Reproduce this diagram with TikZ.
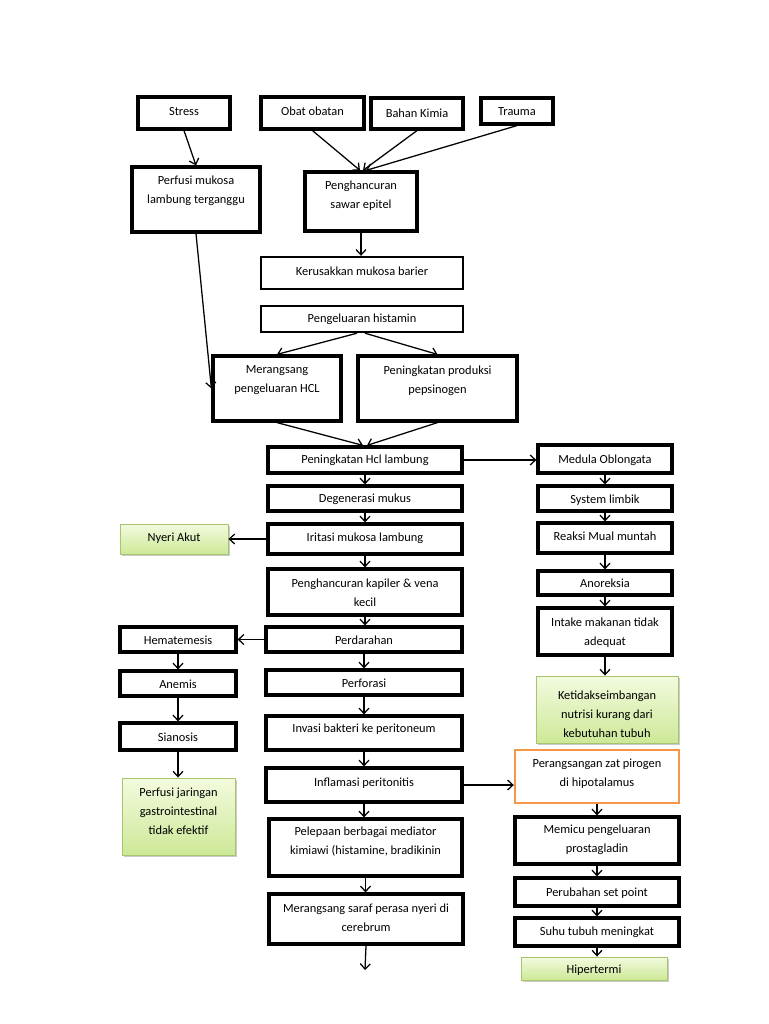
\documentclass[tikz,border=0pt]{standalone}
\usepackage{fontspec}
\setmainfont{Carlito}
\usetikzlibrary{arrows.meta,shadows,calc}
\definecolor{gtop}{HTML}{F3FBDF}
\definecolor{gbot}{HTML}{CDE897}
\definecolor{gline}{HTML}{A8C46C}
\definecolor{orng}{HTML}{F79646}
\newcommand{\mkbox}[8]{%
  \pgfmathsetmacro{\mbcx}{(#3+#5)/2}%
  \pgfmathsetmacro{\mbcy}{(#4+#6)/2}%
  \pgfmathsetmacro{\mbw}{(#5-#3)*0.75}%
  \pgfmathsetmacro{\mbh}{(#6-#4)*0.75}%
  \node[#2, minimum width=\mbw pt, minimum height=\mbh pt] (#1) at (\mbcx,\mbcy) {};%
  \node[txt] (#1-t) at (\mbcx,#7) {#8};%
}
\begin{document}
\begin{tikzpicture}[x=0.75pt,y=-0.75pt,
  txt/.style={inner sep=0pt, align=center, font=\fontsize{9.3}{14.25}\selectfont},
  bbox/.style={draw=black, fill=white, line width=2.4pt, inner sep=0pt, rectangle},
  tbox/.style={draw=black, fill=white, line width=1.8pt, inner sep=0pt, rectangle},
  gbox/.style={draw=gline, line width=0.7pt, top color=gtop, bottom color=gbot, inner sep=0pt, rectangle,
    drop shadow={shadow xshift=1.3pt, shadow yshift=-1.8pt, fill=black!45, opacity=0.45}},
  obox/.style={draw=orng, fill=white, line width=1.8pt, inner sep=0pt, rectangle},
  conn/.style={draw=black, line width=0.95pt, -{Straight Barb[length=4pt,width=7.5pt,line width=0.95pt]}}
]
\fill[white] (0,0) rectangle (768,1024);
\useasboundingbox (0,0) rectangle (768,1024);

% top row
\mkbox{stress}{bbox}{138}{97}{230}{129}{112}{Stress}
\mkbox{obat}{bbox}{261}{97}{364}{129}{111}{Obat obatan}
\mkbox{bahan}{bbox}{371}{98}{463}{129}{113}{Bahan Kimia}
\mkbox{trauma}{bbox}{481}{98}{553}{124}{112}{Trauma}
\mkbox{perfusi}{bbox}{132}{167}{260}{232}{190.5}{Perfusi mukosa\\lambung terganggu}
\mkbox{peng}{bbox}{305}{172}{417}{231}{195.5}{Penghancuran\\sawar epitel}
\mkbox{kerus}{tbox}{261}{257}{463}{289}{271}{Kerusakkan mukosa barier}
\mkbox{hist}{tbox}{261}{306}{463}{332}{319}{Pengeluaran histamin}
\mkbox{merang}{bbox}{213}{356}{341}{421}{380.5}{Merangsang\\pengeluaran HCL}
\mkbox{pepsin}{bbox}{358}{356}{517}{421}{380.5}{Peningkatan produksi\\pepsinogen}

% central column
\mkbox{hcl}{bbox}{268}{447}{462}{473}{460}{Peningkatan Hcl lambung}
\mkbox{degen}{bbox}{268}{486}{462}{511}{499}{Degenerasi mukus}
\mkbox{iritasi}{bbox}{268}{524}{462}{554}{538}{Iritasi mukosa lambung}
\mkbox{kapiler}{bbox}{268}{569}{462}{615}{592.5}{Penghancuran kapiler \& vena\\kecil}
\mkbox{darah}{bbox}{266}{627}{462}{652}{640}{Perdarahan}
\mkbox{perfor}{bbox}{266}{670}{462}{695}{683}{Perforasi}
\mkbox{invasi}{bbox}{266}{716}{462}{750}{729}{Invasi bakteri ke peritoneum}
\mkbox{inflam}{bbox}{266}{768}{462}{802}{783}{Inflamasi peritonitis}
\mkbox{pelepa}{bbox}{269}{819}{462}{876}{841.5}{Pelepaan berbagai mediator\\kimiawi (histamine, bradikinin}
\mkbox{saraf}{bbox}{269}{894}{463}{944}{917.5}{Merangsang saraf perasa nyeri di\\cerebrum}
\coordinate (endc) at (365,970);

% left column
\mkbox{nyeri}{gbox}{120}{524}{228}{554}{538}{Nyeri Akut}
\mkbox{hemat}{bbox}{120}{627}{236}{652}{640}{Hematemesis}
\mkbox{anemis}{bbox}{120}{671}{236}{696}{684}{Anemis}
\mkbox{sianosis}{bbox}{120}{723}{236}{750}{737}{Sianosis}
\mkbox{pjar}{gbox}{122}{778}{235}{855}{811}{Perfusi jaringan\\gastrointestinal\\tidak efektif}

% right column
\mkbox{medula}{bbox}{538}{445}{672}{473}{460}{Medula Oblongata}
\mkbox{limbik}{bbox}{538}{486}{672}{511}{500}{System limbik}
\mkbox{reaksi}{bbox}{538}{523}{672}{553}{536}{Reaksi Mual muntah}
\mkbox{anorek}{bbox}{538}{571}{672}{595}{583}{Anoreksia}
\mkbox{intake}{bbox}{538}{608}{672}{655}{632.5}{Intake makanan tidak\\adequat}
\mkbox{ketidak}{gbox}{536}{676}{678}{743}{714}{Ketidakseimbangan\\nutrisi kurang dari\\kebutuhan tubuh}
\mkbox{perang}{obox}{515}{750}{679}{803}{774}{Perangsangan zat pirogen\\di hipotalamus}
\mkbox{memicu}{bbox}{515}{817}{679}{864}{840}{Memicu pengeluaran\\prostagladin}
\mkbox{ubah}{bbox}{515}{878}{679}{906}{893}{Perubahan set point}
\mkbox{suhu}{bbox}{515}{918}{679}{946}{932}{Suhu tubuh meningkat}
\mkbox{hiper}{gbox}{521}{957}{667}{980}{970}{Hipertermi}

% connectors top
\draw[conn] (stress.south) -- (perfusi.north);
\draw[conn] (obat.south) -- ($(peng.north)+(-1,0)$);
\draw[conn] (bahan.south) -- ($(peng.north)+(2,0)$);
\draw[conn] (trauma.south) -- ($(peng.north)+(5,0)$);
\draw[conn] (peng.south) -- (peng.south |- kerus.north);
\draw[conn] (perfusi.south) -- (merang.west);
\draw[conn] ($(hist.south)+(-5,0)$) -- (merang.north);
\draw[conn] ($(hist.south)+(3,0)$) -- (pepsin.north);
\draw[conn] (merang.south) -- ($(hcl.north)+(-2,0)$);
\draw[conn] (pepsin.south) -- ($(hcl.north)+(2,0)$);

% central chain
\draw[conn] (hcl.south) -- (hcl.south |- degen.north);
\draw[conn] (degen.south) -- (degen.south |- iritasi.north);
\draw[conn] (iritasi.south) -- (iritasi.south |- kapiler.north);
\draw[conn] (kapiler.south) -- (kapiler.south |- darah.north);
\draw[conn] (darah.south) -- (darah.south |- perfor.north);
\draw[conn] (perfor.south) -- (perfor.south |- invasi.north);
\draw[conn] (invasi.south) -- (invasi.south |- inflam.north);
\draw[conn] (inflam.south) -- (inflam.south |- pelepa.north);
\draw[conn] (pelepa.south) -- (pelepa.south |- saraf.north);
\draw[conn] (saraf.south) -- (endc);

% side branches
\draw[conn] (hcl.east) -- (hcl.east -| medula.west);
\draw[conn] (iritasi.west) -- (iritasi.west -| nyeri.east);
\draw[conn] (darah.west) -- (darah.west -| hemat.east);
\draw[conn] (inflam.east) -- (inflam.east -| perang.west);

% left chain
\draw[conn] (hemat.south) -- (hemat.south |- anemis.north);
\draw[conn] (anemis.south) -- (anemis.south |- sianosis.north);
\draw[conn] (sianosis.south) -- (sianosis.south |- pjar.north);

% right chain
\draw[conn] (medula.south) -- (medula.south |- limbik.north);
\draw[conn] (limbik.south) -- (limbik.south |- reaksi.north);
\draw[conn] (reaksi.south) -- (reaksi.south |- anorek.north);
\draw[conn] (anorek.south) -- (anorek.south |- intake.north);
\draw[conn] (intake.south) -- (intake.south |- ketidak.north);
\draw[conn] (perang.south) -- (perang.south |- memicu.north);
\draw[conn] (memicu.south) -- (memicu.south |- ubah.north);
\draw[conn] (ubah.south) -- (ubah.south |- suhu.north);
\draw[conn] (suhu.south) -- (suhu.south |- hiper.north);
\end{tikzpicture}
\end{document}
